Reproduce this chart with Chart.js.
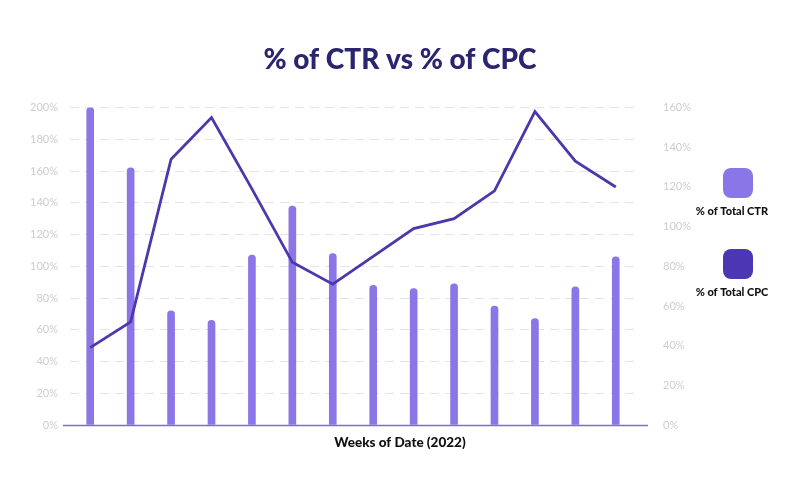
<!DOCTYPE html>
<html>
<head>
<meta charset="utf-8">
<script src="https://cdn.jsdelivr.net/npm/chart.js@4.4.1/dist/chart.umd.min.js"></script>
<style>
    html, body { margin: 0; background: #fff; }
    #wrap { width: 800px; height: 500px; }
</style>
</head>
<body>
<div id="wrap"><canvas id="ctrChart"></canvas></div>
<script>
// weeks of 2022 (labels are not shown on the axis)
var weeks = ['Week 1', 'Week 2', 'Week 3', 'Week 4', 'Week 5', 'Week 6', 'Week 7',
    'Week 8', 'Week 9', 'Week 10', 'Week 11', 'Week 12', 'Week 13', 'Week 14'];
var ctrValues = [200, 162, 72, 66, 107, 138, 108, 88, 86, 89, 75, 67, 87, 106];
var cpcValues = [39, 52, 134, 155, 119, 82, 71, 85, 99, 104, 118, 158, 133, 120];
var leftTicks = { max: 200, step: 20 };
var rightTicks = { max: 160, step: 20 };

var barColor = '#8b76e7';
var lineColor = '#4e37ad';
var cpcSwatch = '#4c36b3';

// baseline, x axis title and the legend on the right
var extras = {
    id: 'extras',
    beforeDatasetsDraw: function (chart) {
        var ctx = chart.ctx, a = chart.chartArea;
        ctx.save();
        ctx.strokeStyle = '#7d6bd6';
        ctx.lineWidth = 1.5;
        ctx.beginPath();
        ctx.moveTo(a.left - 7, a.bottom + 0.5);
        ctx.lineTo(a.right + 12, a.bottom + 0.5);
        ctx.stroke();
        ctx.restore();
    },
    afterDraw: function (chart) {
        var ctx = chart.ctx;
        ctx.save();
        ctx.fillStyle = '#111';
        ctx.textAlign = 'center';
        ctx.textBaseline = 'middle';
        ctx.font = '900 13.5px Lato';
        ctx.fillText('Weeks of Date (2022)', 400, 443);

        chart.data.datasets.forEach(function (ds, i) {
            var cx = 738, top = 168 + i * 81;
            ctx.fillStyle = ds.swatch;
            ctx.beginPath();
            ctx.roundRect(cx - 15, top, 30, 30, 8);
            ctx.fill();
            ctx.fillStyle = '#111';
            ctx.font = '900 11px Lato';
            ctx.fillText(ds.label, cx - 6, top + 43);
        });
        ctx.restore();
    }
};

var ctx = document.getElementById('ctrChart').getContext('2d');
new Chart(ctx, {
    type: 'bar',
    data: {
        labels: weeks,
        datasets: [{
            type: 'bar',
            label: '% of Total CTR',
            data: ctrValues,
            yAxisID: 'y',
            backgroundColor: barColor,
            swatch: barColor,
            barThickness: 7,
            borderRadius: 4,
            borderSkipped: 'bottom',
            order: 1
        }, {
            type: 'line',
            label: '% of Total CPC',
            data: cpcValues,
            yAxisID: 'y1',
            borderColor: lineColor,
            backgroundColor: lineColor,
            swatch: cpcSwatch,
            borderWidth: 2.8,
            pointRadius: 0,
            tension: 0,
            order: 0
        }]
    },
    options: {
        responsive: true,
        maintainAspectRatio: false,
        animation: false,
        layout: { padding: 0 },
        plugins: {
            legend: { display: false },
            tooltip: { enabled: false },
            title: {
                display: true,
                text: '% of CTR vs % of CPC',
                color: '#2b2470',
                font: { family: 'Lato', size: 28, weight: '900' },
                padding: { top: 43, bottom: 31 }
            }
        },
        scales: {
            x: {
                grid: { display: false },
                border: { display: false },
                ticks: { display: false },
                afterFit: function (scale) { scale.height = 75; }
            },
            y: {
                position: 'left',
                min: 0,
                max: leftTicks.max,
                ticks: {
                    stepSize: leftTicks.step,
                    padding: 12,
                    color: '#cdcdcd',
                    font: { family: 'Lato', size: 11 },
                    callback: function (value) { return value + '%'; }
                },
                grid: { color: '#e4e4e4', drawTicks: false },
                border: { display: false, dash: [9, 6] },
                afterFit: function (scale) { scale.width = 70; }
            },
            y1: {
                position: 'right',
                min: 0,
                max: rightTicks.max,
                ticks: {
                    stepSize: rightTicks.step,
                    padding: 19,
                    color: '#cdcdcd',
                    font: { family: 'Lato', size: 11 },
                    callback: function (value) { return value + '%'; }
                },
                grid: { display: false },
                border: { display: false },
                afterFit: function (scale) { scale.width = 164; }
            }
        }
    },
    plugins: [extras]
});
</script>
</body>
</html>
